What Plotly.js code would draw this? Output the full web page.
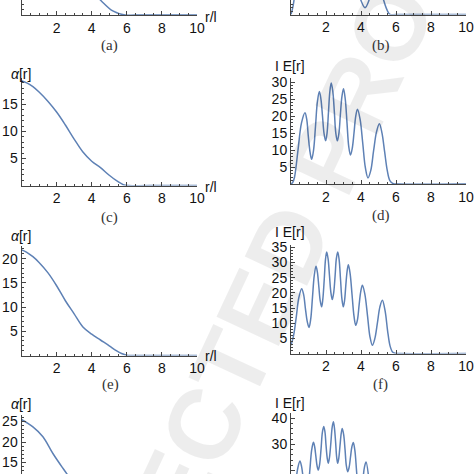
<!DOCTYPE html>
<html><head><meta charset="utf-8">
<script src="https://cdn.plot.ly/plotly-3.0.1.min.js"></script>
<style>html,body{margin:0;padding:0;background:#fff}#chart{width:474px;height:474px}</style>
</head><body><div id="chart"></div>
<script>
// ---- data ----
const xTickVals = [2,4,6,8,10];
const xTickText = ['2','4','6','8','10'];

const rA = [0,1,2,3,4,4.55,5.2,5.9,6.5,10];
const aA = [16,14.3,11.5,8,4.5,2.6,0.75,0,0,0];

const rB = [0,0.1,0.25,0.7,1.1,1.5,1.9,2.3,2.7,3.3,4.0,4.23,4.45,4.85,5.3,5.5,5.66,6,10];
const eB = [0,2,6.5,16,7,21,10,23,10,19,4.1,2.0,4.1,14,4.1,1.2,0,0,0];

const rC = [0,0.3,0.65,1.0,1.5,2.0,2.5,3.0,3.5,4.0,4.5,5.0,5.5,5.8,6.1,8,10];
const aC = [19.4,19.0,18.3,17.3,15.6,13.6,11.2,8.6,6.2,4.5,3.3,1.9,0.7,0.15,0,0,0];
const yTickC = [5,10,15];

const rD = [0,0.1,0.2,0.4,0.6,0.8,0.9,0.99,1.09,1.18,1.29,1.4,1.51,1.62,1.71,1.8,1.89,1.98,2.06,2.14,2.22,2.3,2.39,2.48,2.56,2.65,2.74,2.82,2.91,3.0,3.1,3.2,3.3,3.4,3.5,3.6,3.7,3.8,3.95,4.1,4.25,4.4,4.56,4.72,4.89,5.05,5.2,5.35,5.5,5.65,5.85,6.1,10];
const eD = [0,0.5,2,10,18,21,19,14,9.3,7.3,10,17,24.3,27.2,25,20,14.8,12.7,15,21,27.2,29.7,27.2,21,15,12.7,15,20.3,25.7,28,25,18,11,8.5,10.5,15,20,22,19,12,4.8,1.8,4,9.8,15.4,17.7,15,9.5,4,1,0.1,0,0];
const yTickD = [5,10,15,20,25,30];

const rE = [0,0.3,0.65,1.0,1.5,2.0,2.5,3.0,3.5,4.0,4.5,5.0,5.4,5.7,6.0,6.3,8,10];
const aE = [21.8,21.3,20.4,19.2,17.1,14.4,11.3,8.6,5.9,4.4,3.2,2.0,1.0,0.4,0.05,0,0,0];
const yTickE = [5,10,15,20];

const rF = [0,0.15,0.3,0.45,0.61,0.72,0.82,0.93,1.03,1.13,1.23,1.33,1.43,1.51,1.59,1.67,1.75,1.82,1.9,1.97,2.04,2.12,2.2,2.28,2.36,2.44,2.52,2.59,2.67,2.75,2.83,2.91,2.99,3.06,3.13,3.21,3.28,3.38,3.49,3.6,3.7,3.8,3.89,3.99,4.08,4.22,4.37,4.51,4.65,4.79,4.94,5.08,5.22,5.38,5.52,5.66,5.8,5.94,6.2,10];
const eF = [2.7,6,12,18.5,21.4,19.5,15,10.5,8.6,11.5,18.7,25.8,28.8,26.8,22.1,17.4,15.4,18,24.5,31,33.5,31.2,25.6,20.1,17.8,20.1,25.6,31.2,33.5,31,24.5,18,15.4,17.4,22.3,27.3,29.3,26.3,19.3,12.3,9.3,11.2,15.9,20.6,22.5,19.6,12.6,5.6,2.7,4.9,10.2,15.4,17.6,14,7.5,2.5,0.5,0.1,0,0];
const yTickF = [5,10,15,20,25,30,35];

const rG = [0,0.65,1.22,1.79,2.36,2.93,3.5,4.07,4.64,5.2,5.7,6.2,10];
const aG = [25.5,23.7,21.3,17.2,13.6,10.2,7,4.8,3.2,1.7,0.4,0,0];
const yTickG = [5,10,15,20,25];

const rH = [0,0.13,0.26,0.39,0.51,0.6,0.7,0.79,0.88,0.98,1.08,1.18,1.28,1.35,1.42,1.49,1.56,1.64,1.72,1.79,1.87,1.94,2.0,2.07,2.13,2.2,2.28,2.35,2.42,2.48,2.55,2.61,2.67,2.73,2.8,2.87,2.93,3.01,3.09,3.16,3.24,3.32,3.4,3.48,3.56,3.65,3.74,3.83,3.92,4.01,4.11,4.2,4.29,4.5,4.7,5.2,5.6,5.95,6.3,10];
const eH = [3,8,15,21,23.7,21.7,16.9,12,10,13,20.4,27.8,30.8,29.2,25.5,21.8,20.2,22.6,28.5,34.4,36.8,34.8,29.8,24.8,22.8,25.1,30.8,36.4,38.7,36.4,30.8,25.1,22.8,24.7,29.5,34.2,36.1,33.7,27.9,22,19.6,21.2,25.2,29.1,30.7,27.7,20.4,13,10,12,16.7,21.4,23.3,14,3,16,4,0.2,0,0];
const yTickH = [10,20,30,40];

const panelLabels = ['(a)','(b)','(c)','(d)','(e)','(f)'];
const alphaLabel = '<i>α</i>[r]';
const eLabel = 'I E[r]';
const rLabel = 'r/l';
const watermark = 'CORRECTED PROOF';

// ---- layout helpers ----
const W = 474, H = 474;
const fx = p => p / W;
const fy = p => 1 - p / H;
const LINE = '#5e81b5';
const AX = '#444';
const tickFont = {family:'Liberation Sans, Arial, sans-serif', size:14, color:'#111'};

const series = [[rA,aA],[rB,eB],[rC,aC],[rD,eD],[rE,aE],[rF,eF],[rG,aG],[rH,eH]];
const data = series.map((s,i) => ({
  x: s[0], y: s[1], type:'scatter', mode:'lines',
  line:{color:LINE, width:1.5, shape:'spline', smoothing:1},
  xaxis: i===0 ? 'x' : 'x'+(i+1), yaxis: i===0 ? 'y' : 'y'+(i+1),
  hoverinfo:'skip'
}));

const leftX = [21.5, 197], rightX = [291, 466];
// [xpx, yBottomPx, yTopPx, yMin, yMax, yticks, showX, yMinorDtick]
const geo = [
  [leftX, 15, 0, 0, 15/5.4, [], true, 1],
  [rightX, 14.5, 0, 0, 14.5/3.4, [], true, 1],
  [leftX, 185.5, 78, 0, 19.9, yTickC, true, 1],
  [rightX, 184, 78, 0, 31.2, yTickD, true, 1],
  [leftX, 355.5, 246, 0, 22.6, yTickE, true, 1],
  [rightX, 353.5, 245, 0, 35.8, yTickF, true, 1],
  [leftX, 474, 415, 12.2, 26.6, yTickG, false, 1],
  [rightX, 474, 413, 18.7, 42, yTickH, false, 2]
];

const layout = {
  width: W, height: H, margin:{l:0,r:0,t:0,b:0},
  paper_bgcolor:'#fff', plot_bgcolor:'rgba(0,0,0,0)', showlegend:false,
  annotations:[], font:tickFont
};

geo.forEach((g,i) => {
  const xn = i===0 ? 'xaxis' : 'xaxis'+(i+1);
  const yn = i===0 ? 'yaxis' : 'yaxis'+(i+1);
  const xr = i===0 ? 'x' : 'x'+(i+1);
  const yr = i===0 ? 'y' : 'y'+(i+1);
  layout[xn] = {
    domain:[fx(g[0][0]), fx(g[0][1])], anchor: yr, range:[0,10],
    visible: g[6], showline:true, linecolor:AX, linewidth:1,
    showgrid:false, zeroline:false, ticks:'inside', ticklen:4, tickcolor:AX,
    tickmode:'array', tickvals:xTickVals, ticktext:xTickText, tickfont:tickFont,
    minor:{ticks:'inside', ticklen:2, dtick:0.5, tick0:0, tickcolor:AX, showgrid:false},
    fixedrange:true
  };
  layout[yn] = {
    domain:[fy(g[1]), fy(g[2])], anchor: xr, range:[g[3], g[4]],
    showline:true, linecolor:AX, linewidth:1,
    showgrid:false, zeroline:false, ticks:'inside', ticklen:4, tickcolor:AX,
    tickmode:'array', tickvals:g[5], ticktext:g[5].map(String), tickfont:tickFont,
    minor:{ticks:'inside', ticklen:2, dtick:g[7], tick0:0, tickcolor:AX, showgrid:false},
    fixedrange:true
  };
});

const ann = layout.annotations;
const addText = (t, px, py, font) => ann.push({text:t, x:fx(px), y:fy(py), xref:'paper', yref:'paper',
  xanchor:'center', yanchor:'middle', showarrow:false, font:font});
const labFont = {family:'Liberation Sans, Arial, sans-serif', size:14, color:'#111'};
const capFont = {family:'Liberation Serif, Times New Roman, serif', size:15, color:'#333'};

// watermark
ann.push({text:'<b>'+watermark+'</b>', x:fx(250), y:fy(325), xref:'paper', yref:'paper',
  xanchor:'center', yanchor:'middle', showarrow:false, textangle:-65,
  font:{family:'Liberation Sans, Arial, sans-serif', size:100, color:'rgba(0,0,0,0.07)'}});

[[21,74],[21,236],[21,404]].forEach(p => addText(alphaLabel, p[0], p[1], labFont));
[[290,66],[290,232],[290,403]].forEach(p => addText(eLabel, p[0], p[1], labFont));
[[211,17],[211,187],[211,356]].forEach(p => addText(rLabel, p[0], p[1], labFont));
[[109,45],[381,45],[109,217],[381,215],[110,384],[380,384]].forEach((p,i) => addText(panelLabels[i], p[0], p[1], capFont));

Plotly.newPlot('chart', data, layout, {displayModeBar:false, staticPlot:true});
</script></body></html>
